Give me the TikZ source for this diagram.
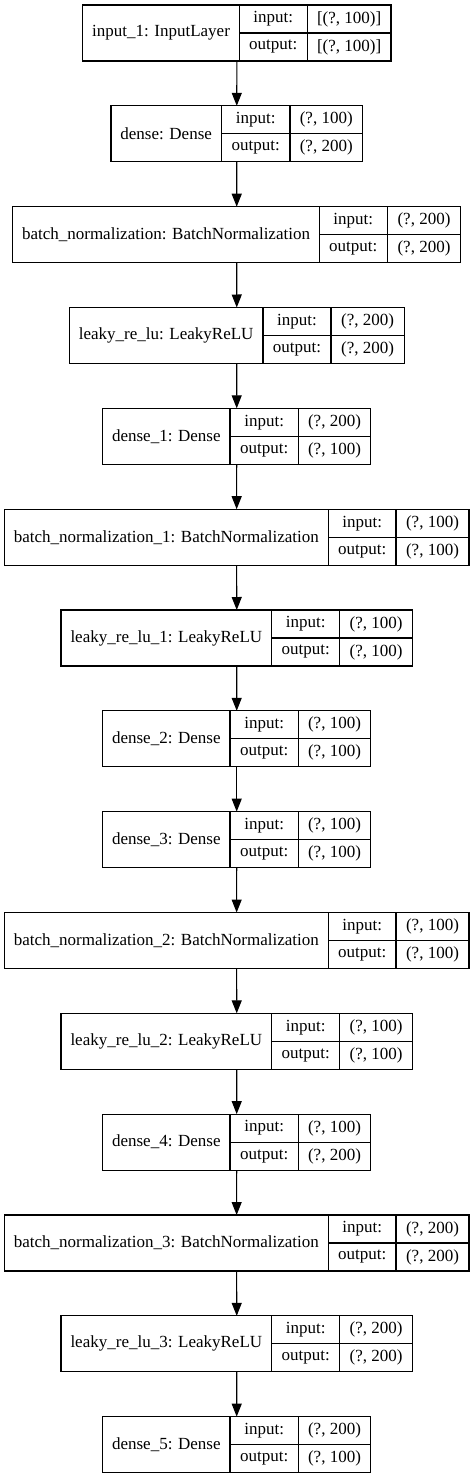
\documentclass[tikz,border=0pt]{standalone}
\usepackage{fontspec}
\setmainfont{Liberation Serif}
\usetikzlibrary{arrows.meta,fit}
\tikzset{
  layerframe/.style={draw, line width=1.1pt, inner sep=0pt, outer sep=0pt},
  divider/.style={line width=1.1pt},
  txt/.style={inner sep=0pt, font=\fontsize{17}{20}\selectfont},
  arr/.style={line width=1.1pt, -{Triangle[length=13pt,width=10pt]}},
}
% #1 id, #2 top, #3 xl, #4 d1, #5 d2, #6 xr, #7 label, #8 in, #9 out
\newcommand\layerbox[9]{%
  \node[layerframe, fit={(#3,#2) (#6,#2+56)}] (#1) {};
  \draw[divider] (#4,#2) -- (#4,#2+56);
  \draw[divider] (#5,#2) -- (#5,#2+56);
  \draw[divider] (#4,#2+28) -- (#6,#2+28);
  \node[txt] (#1l) at ({(#3+#4)/2},#2+28) {#7};
  \node[txt] (#1i) at ({(#4+#5)/2},#2+14) {input:};
  \node[txt] (#1o) at ({(#4+#5)/2},#2+42) {output:};
  \node[txt] (#1iv) at ({(#5+#6)/2},#2+14) {#8};
  \node[txt] (#1ov) at ({(#5+#6)/2},#2+42) {#9};
}
\begin{document}
\begin{tikzpicture}[x=1pt,y=-1pt]
\useasboundingbox (0,0) rectangle (474,1479);
\layerbox{b1}{5}{82.7}{239.3}{307.3}{391}{input\_1: InputLayer}{[(?, 100)]}{[(?, 100)]}
\layerbox{b2}{105.8}{111}{221.3}{290}{362.5}{dense: Dense}{(?, 100)}{(?, 200)}
\layerbox{b3}{206.7}{12.7}{319.3}{387.3}{460.7}{batch\_normalization: BatchNormalization}{(?, 200)}{(?, 200)}
\layerbox{b4}{307.5}{69.3}{263}{331}{404.2}{leaky\_re\_lu: LeakyReLU}{(?, 200)}{(?, 200)}
\layerbox{b5}{408.3}{102.7}{230}{298.3}{370.7}{dense\_1: Dense}{(?, 200)}{(?, 100)}
\layerbox{b6}{509.2}{4.3}{328.3}{396}{469}{batch\_normalization\_1: BatchNormalization}{(?, 100)}{(?, 100)}
\layerbox{b7}{610}{61}{271.7}{339.7}{412.5}{leaky\_re\_lu\_1: LeakyReLU}{(?, 100)}{(?, 100)}
\layerbox{b8}{710.8}{102.7}{230}{298.3}{370.7}{dense\_2: Dense}{(?, 100)}{(?, 100)}
\layerbox{b9}{811.6}{102.7}{230}{298.3}{370.7}{dense\_3: Dense}{(?, 100)}{(?, 100)}
\layerbox{b10}{912.5}{4.3}{328.3}{396}{469}{batch\_normalization\_2: BatchNormalization}{(?, 100)}{(?, 100)}
\layerbox{b11}{1013.3}{61}{271.7}{339.7}{412.5}{leaky\_re\_lu\_2: LeakyReLU}{(?, 100)}{(?, 100)}
\layerbox{b12}{1114.1}{102.7}{230}{298.3}{370.7}{dense\_4: Dense}{(?, 100)}{(?, 200)}
\layerbox{b13}{1215}{4.3}{328.3}{396}{469}{batch\_normalization\_3: BatchNormalization}{(?, 200)}{(?, 200)}
\layerbox{b14}{1315.8}{61}{271.7}{339.7}{412.5}{leaky\_re\_lu\_3: LeakyReLU}{(?, 200)}{(?, 200)}
\layerbox{b15}{1416.6}{102.7}{230}{298.3}{370.7}{dense\_5: Dense}{(?, 200)}{(?, 100)}
\foreach \a/\b in {b1/b2,b2/b3,b3/b4,b4/b5,b5/b6,b6/b7,b7/b8,b8/b9,b9/b10,b10/b11,b11/b12,b12/b13,b13/b14,b14/b15}
  \draw[arr] (\a.south) -- (\b.north);
\end{tikzpicture}
\end{document}
